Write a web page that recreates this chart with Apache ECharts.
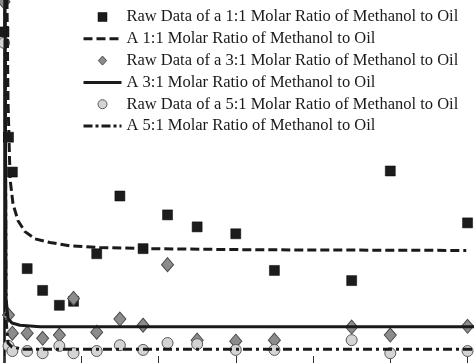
<!DOCTYPE html>
<html>
<head>
<meta charset="utf-8">
<script src="https://cdn.jsdelivr.net/npm/echarts@6/dist/echarts.min.js"></script>
<style>html,body{margin:0;padding:0;background:#fff;}#c{width:474px;height:363px;}</style>
</head>
<body>
<div id="c"></div>
<script>
// Sampling times (shared by the three raw data sets)
const times = [0, 3.5, 6.5, 18, 30, 43, 54, 72, 90, 108, 127, 150, 180, 210, 270, 300, 360];
// Raw data
const raw11 = [91.2, 62.2, 52.6, 26.0, 20.0, 15.9, 17.0, 30.1, 46.0, 31.5, 40.8, 37.5, 35.6, 25.5, 22.7, 52.9, 38.6];
const raw31 = [99.5, 13.2, 8.2, 8.2, 6.8, 7.7, 17.8, 8.5, 12.1, 10.4, 27.1, 6.3, 6.0, 6.3, 9.9, 7.7, 10.1];
const raw51 = [88.2, 4.7, 3.3, 3.3, 2.7, 4.7, 2.7, 3.3, 4.9, 3.6, 5.5, 5.2, 3.6, 3.6, 6.3, 2.7, 3.3];
// Model curves
const model11X = [2.3, 3.1, 4.7, 7.0, 10.9, 16.3, 24.1, 35.7, 51.2, 74.5, 113, 191, 359];
const model11Y = [100, 72.6, 50.7, 43.8, 39.2, 36.2, 34.2, 33.2, 32.3, 31.8, 31.5, 31.2, 31.0];
const model31X = [0.8, 1.6, 3.1, 6.2, 12.4, 28, 365];
const model31Y = [100, 17.8, 12.3, 11.0, 10.4, 10.0, 10.0];
const model51X = [0.8, 1.6, 3.1, 6.2, 15, 365];
const model51Y = [100, 12.0, 5.5, 4.4, 3.8, 3.8];

const names = [
  'Raw Data of a 1:1 Molar Ratio of Methanol to Oil',
  'A 1:1 Molar Ratio of Methanol to Oil',
  'Raw Data of a 3:1 Molar Ratio of Methanol to Oil',
  'A 3:1 Molar Ratio of Methanol to Oil',
  'Raw Data of a 5:1 Molar Ratio of Methanol to Oil',
  'A 5:1 Molar Ratio of Methanol to Oil'
];

const pair = (xs, ys) => xs.map((x, i) => [x, ys[i]]);
const hidden = {color: 'rgba(0,0,0,0)', borderColor: 'rgba(0,0,0,0)', borderWidth: 0, opacity: 0};

const chart = echarts.init(document.getElementById('c'), null, {renderer: 'canvas'});
chart.setOption({
  animation: false,
  backgroundColor: '#ffffff',
  grid: {left: 4, right: 0, top: 0, bottom: -2, containLabel: false},
  xAxis: {
    type: 'value', min: 0, max: 365, interval: 60,
    axisLine: {show: false},
    axisTick: {show: true, inside: true, length: 7, lineStyle: {color: '#333', width: 1}},
    axisLabel: {show: false},
    splitLine: {show: false}
  },
  yAxis: {
    type: 'value', min: 0, max: 100,
    axisLine: {show: true, lineStyle: {color: '#111', width: 2.5}},
    axisTick: {show: false},
    axisLabel: {show: false},
    splitLine: {show: false}
  },
  legend: {
    orient: 'vertical', left: 77, top: 3,
    itemWidth: 38, itemHeight: 9, itemGap: 3.8,
    symbolKeepAspect: true,
    textStyle: {fontFamily: 'Liberation Serif', fontSize: 16.5, lineHeight: 18, color: '#1a1a1a'},
    data: [
      {name: names[0], icon: 'path://M0,0L10,0L10,10L0,10Z', itemStyle: {color: '#1c1c1c', borderColor: '#000', borderWidth: 0.5}},
      {name: names[1], itemStyle: hidden, lineStyle: {color: '#1a1a1a', width: 3, type: [9, 4]}},
      {name: names[2], icon: 'path://M6,0L12,6.5L6,13L0,6.5Z', itemStyle: {color: '#8c8c8c', borderColor: '#4a4a4a', borderWidth: 1}},
      {name: names[3], itemStyle: hidden, lineStyle: {color: '#1a1a1a', width: 3, type: 'solid'}},
      {name: names[4], icon: 'circle', itemStyle: {color: '#d4d4d4', borderColor: '#5a5a5a', borderWidth: 1}},
      {name: names[5], itemStyle: hidden, lineStyle: {color: '#1a1a1a', width: 3, type: [9, 3, 3, 3]}}
    ]
  },
  series: [
    {
      name: names[0], type: 'scatter', symbol: 'rect', symbolSize: 10,
      itemStyle: {color: '#1c1c1c', borderColor: '#000', borderWidth: 0.5, opacity: 1},
      data: pair(times, raw11)
    },
    {
      name: names[1], type: 'line', symbol: 'none', smooth: false,
      itemStyle: {color: '#1a1a1a'},
      lineStyle: {color: '#1a1a1a', width: 3, type: [9, 4]},
      data: pair(model11X, model11Y)
    },
    {
      name: names[2], type: 'scatter', symbol: 'diamond', symbolSize: [12, 14],
      itemStyle: {color: '#8c8c8c', borderColor: '#4a4a4a', borderWidth: 1, opacity: 1},
      data: pair(times, raw31)
    },
    {
      name: names[3], type: 'line', symbol: 'none',
      itemStyle: {color: '#1a1a1a'},
      lineStyle: {color: '#1a1a1a', width: 3, type: 'solid'},
      data: pair(model31X, model31Y)
    },
    {
      name: names[4], type: 'scatter', symbol: 'circle', symbolSize: 11,
      itemStyle: {color: '#d4d4d4', borderColor: '#5a5a5a', borderWidth: 1, opacity: 1},
      data: pair(times, raw51)
    },
    {
      name: names[5], type: 'line', symbol: 'none',
      itemStyle: {color: '#1a1a1a'},
      lineStyle: {color: '#1a1a1a', width: 3, type: [9, 4, 3, 4]},
      data: pair(model51X, model51Y)
    }
  ]
});
</script>
</body>
</html>
